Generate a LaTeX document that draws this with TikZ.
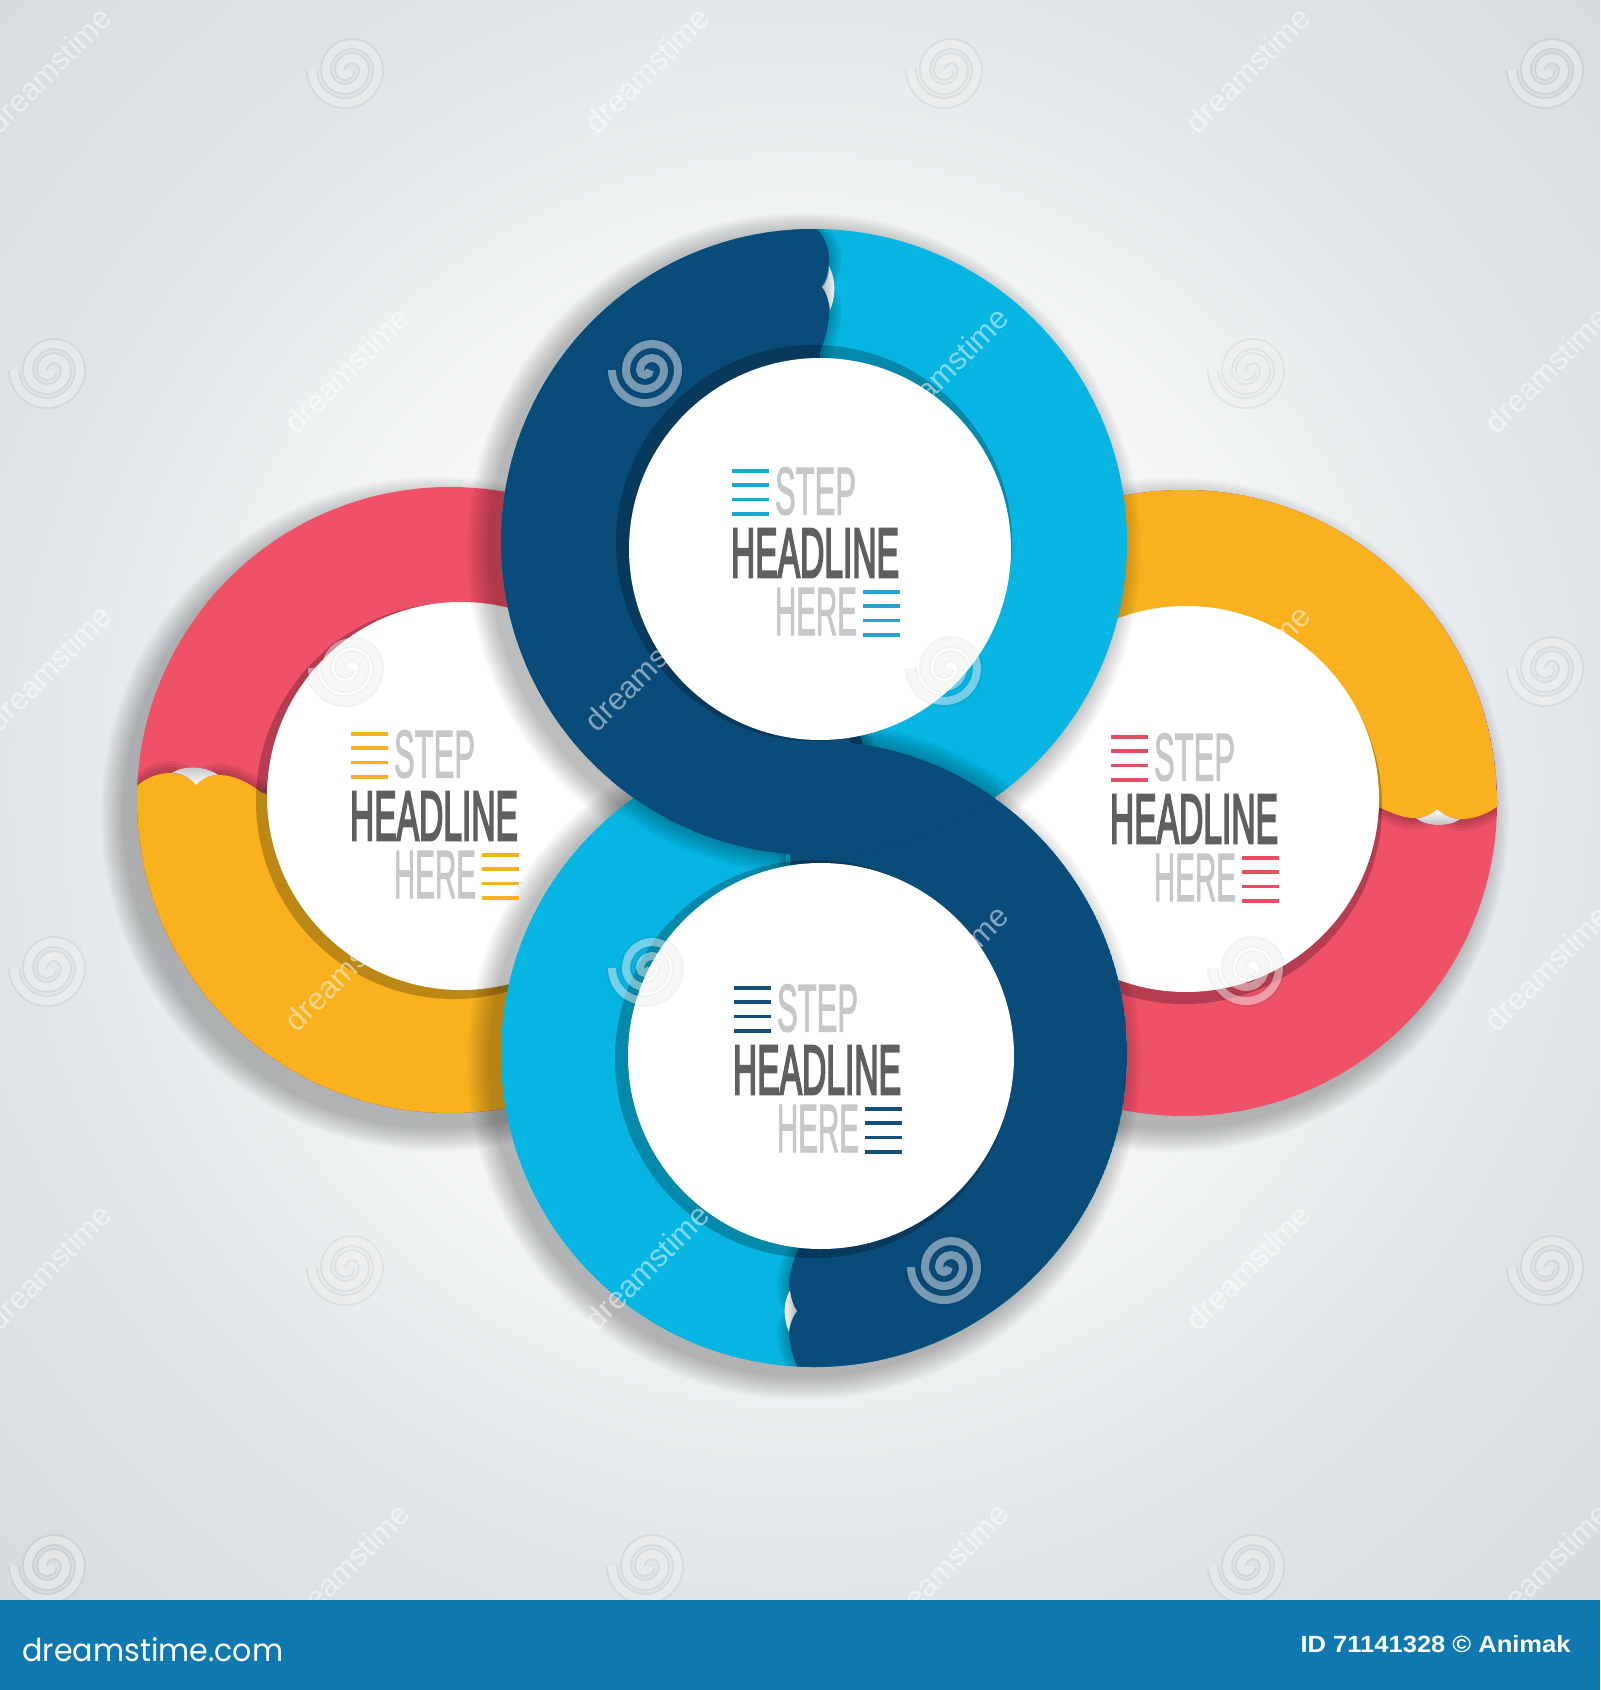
\documentclass[tikz,border=0pt]{standalone}
\usepackage{fontspec}
\usepackage{graphicx}
\setmainfont{Liberation Sans}
\newfontfamily\stepfont[FakeBold=2]{Liberation Sans}
\newfontfamily\headfont[FakeBold=4]{Liberation Sans}
\newfontfamily\logofont{Poppins}
\usetikzlibrary{calc}

\definecolor{navy}{RGB}{9,75,121}
\definecolor{sky}{RGB}{6,181,225}
\definecolor{rose}{RGB}{238,81,104}
\definecolor{amber}{RGB}{249,178,30}
\definecolor{headgray}{RGB}{94,95,97}
\definecolor{softgray}{RGB}{198,199,201}
\definecolor{barblue}{RGB}{16,120,176}
\definecolor{linesky}{RGB}{30,166,214}
\definecolor{linenavy}{RGB}{20,78,122}
\definecolor{lineamber}{RGB}{246,176,36}
\definecolor{linerose}{RGB}{228,77,98}
\definecolor{bgA}{RGB}{252,252,252}
\definecolor{bgB}{RGB}{248,249,249}
\definecolor{bgC}{RGB}{237,240,241}
\definecolor{bgD}{RGB}{225,229,232}
\definecolor{bgE}{RGB}{213,219,223}

\pgfdeclareradialshading{bgshade}{\pgfpoint{0bp}{0bp}}{color(0bp)=(bgA); color(12.5bp)=(bgB); color(18.75bp)=(bgC); color(25bp)=(bgD); color(35.4bp)=(bgE); color(50bp)=(bgE)}

% soft drop shadow of a disk: centre x, centre y, radius
\newcommand\softdisk[3]{\foreach \q in {1,...,10}{\fill[black,fill opacity=0.028] (#1,#2) circle ({#3+2.4*\q});}}

% text block: name, X0 (left of headline), Y0 (top of STEP), line colour
\newcommand\stepblock[4]{%
  \foreach \q in {0,1,2,3}{%
    \fill[#4] ({#2+1},{#3+1+\q*14.4}) rectangle ({#2+38},{#3+4.5+\q*14.4});
    \fill[#4] ({#2+132},{#3+122+\q*14.4}) rectangle ({#2+169},{#3+125.5+\q*14.4});
  }
  \node[txt, anchor=south west] (#1-step) at ({#2+44},{#3+47}) {\resizebox{40.5pt}{23.5pt}{\stepfont STEP}};
  \node[txt, anchor=south west, text=headgray] (#1-head) at ({#2},{#3+109}) {\resizebox{84pt}{24pt}{\headfont HEADLINE}};
  \node[txt, anchor=south west] (#1-here) at ({#2+44},{#3+167}) {\resizebox{41pt}{23.5pt}{\stepfont HERE}};
}

\def\topclip{(816,200) -- (816,228) .. controls (824,236) and (830,248) .. (829,262) .. controls (828,274) and (825,282) .. (822,287) .. controls (827,293) and (830,303) .. (829,316) .. controls (828,330) and (824,342) .. (820,352) -- (814,542) -- (900,900) -- (450,900) -- (450,200) -- cycle}
\def\botclip{(786,700) -- (800,1246) .. controls (794,1258) and (789,1272) .. (789,1287) .. controls (789,1299) and (793,1306) .. (797,1311) .. controls (792,1316) and (788,1324) .. (789,1335) .. controls (790,1350) and (795,1362) .. (800,1372) -- (800,1420) -- (1180,1420) -- (1180,700) -- cycle}
\def\leftclip{(100,790) -- (137,786) .. controls (146,778) and (158,773) .. (170,773) .. controls (182,773) and (191,779) .. (196,785) .. controls (202,779) and (209,775) .. (219,775) .. controls (233,775) and (248,782) .. (262,793) -- (300,800) -- (900,800) -- (900,1200) -- (100,1200) -- cycle}
\def\rightclip{(850,806) -- (1376,806) .. controls (1388,811) and (1401,818) .. (1414,818) .. controls (1424,818) and (1432,814) .. (1437,809) .. controls (1443,815) and (1452,819) .. (1462,819) .. controls (1476,819) and (1488,813) .. (1500,805) -- (1540,805) -- (1540,450) -- (850,450) -- cycle}

\begin{document}
\begin{tikzpicture}[x=0.5pt, y=-0.5pt,
  txt/.style={inner sep=0pt, outer sep=0pt, text=softgray},
  wall/.style={fill=black, fill opacity=0.24},
  wmline/.style={draw=white, draw opacity=0.45, line width=4pt},
  wmshadow/.style={draw=black, draw opacity=0.05, line width=6pt},
  wmtext/.style={text=white, fill opacity=0.5, inner sep=0pt, font=\fontsize{15.5}{16}\selectfont}]
\useasboundingbox (0,0) rectangle (1600,1690);

% background
\begin{scope}
  \clip (0,0) rectangle (1600,1600);
  \shade[shading=bgshade] (0,-40) rectangle (1600,1600);
\end{scope}

% ---------------- left ring ----------------
\softdisk{438}{814}{313}
\fill[rose] (450,800) circle (313);
\begin{scope}
  \clip (450,800) circle (313);
  \foreach \sh in {3,6,9,12}{\fill[black,fill opacity=0.06,shift={(0,-\sh)}] \leftclip;}
  \clip \leftclip;
  \fill[amber] (450,800) circle (313);
\end{scope}
\fill[wall] (454,801) circle (198);
\fill[white] (461,796) circle (194);
\shade[top color=gray!50, bottom color=white] (172,773) .. controls (183,773) and (191,779) .. (196,785) .. controls (202,779) and (209,775) .. (218,775) .. controls (206,766) and (184,765) .. (172,773) -- cycle;

% ---------------- right ring ----------------
\softdisk{1172}{815}{313}
\fill[rose] (1184,803) circle (313);
\begin{scope}
  \clip (1184,803) circle (313);
  \foreach \sh in {3,6,9,12}{\fill[black,fill opacity=0.06,shift={(0,\sh)}] \rightclip;}
  \clip \rightclip;
  \fill[amber] (1184,803) circle (313);
\end{scope}
\fill[wall] (1184,806) circle (198);
\fill[white] (1186,799) circle (193);
\shade[top color=white, bottom color=gray!55] (1416,818) .. controls (1424,818) and (1432,814) .. (1437,809) .. controls (1443,815) and (1452,819) .. (1460,819) .. controls (1450,827) and (1426,827) .. (1416,818) -- cycle;

% ---------------- central figure eight ----------------
\softdisk{804}{550}{313}
\softdisk{804}{1062}{313}
% top ring
\fill[sky] (814,542) circle (313);
\begin{scope}
  \clip (814,542) circle (313);
  \foreach \sh in {3,6,9,12}{\fill[black,fill opacity=0.06,shift={(\sh,0)}] \topclip;}
  \clip \topclip;
  \fill[navy] (814,542) circle (313);
\end{scope}
% bottom ring
\fill[sky] (814,1054) circle (313);
\begin{scope}
  \clip (814,1054) circle (313);
  \foreach \sh in {3,6,9,12}{\fill[black,fill opacity=0.06,shift={(-\sh,0)}] \botclip;}
  \clip \botclip;
  \fill[navy] (814,1054) circle (313);
\end{scope}
% shadows of the crossing band on the light blue parts
\begin{scope}
  \clip (814,542) circle (313);
  \clip (850,200) rectangle (1200,900);
  \foreach \q in {1,...,8}{\fill[black,fill opacity=0.035] (814,1054) circle ({313+2.5*\q});}
\end{scope}
\begin{scope}
  \clip (814,1054) circle (313);
  \clip (400,700) rectangle (786,1400);
  \foreach \q in {1,...,8}{\fill[black,fill opacity=0.035] (814,542) circle ({313+2.5*\q});}
\end{scope}
% crossing (lens) in dark blue
\begin{scope}
  \clip (814,542) circle (313);
  \fill[navy] (814,1054) circle (313);
\end{scope}
% inner walls and white discs
\fill[wall] (814,543) circle (198);
\fill[white] (820,549) circle (191);
\fill[wall] (814,1059) circle (199);
\fill[white] (821,1056) circle (193);
% curls
\shade[left color=gray!60, right color=white] (829,266) .. controls (829,276) and (826,283) .. (822,287) .. controls (826,292) and (829,300) .. (830,310) .. controls (836,296) and (836,280) .. (829,266) -- cycle;
\shade[left color=white, right color=gray!60] (790,1290) .. controls (791,1300) and (794,1307) .. (797,1311) .. controls (793,1316) and (790,1323) .. (789,1332) .. controls (783,1318) and (783,1302) .. (790,1290) -- cycle;

% ---------------- texts ----------------
\stepblock{top}{731}{468}{linesky}
\stepblock{bottom}{733}{985}{linenavy}
\stepblock{left}{350}{731}{lineamber}
\stepblock{right}{1110}{734}{linerose}

% ---------------- watermarks ----------------
\foreach \ix/\x in {0/49,1/347,2/647,3/946,4/1248,5/1547}{
  \foreach \iy/\y in {0/70,1/370,2/668,3/968,4/1267,5/1566}{
    \pgfmathtruncatemacro\wmodd{mod(\ix+\iy,2)}
    \ifnum\wmodd=1
      \draw[wmshadow] ({\x+3},\y) arc[start angle=0,end angle=180,radius=5] arc[start angle=180,end angle=360,radius=12] arc[start angle=0,end angle=180,radius=19] arc[start angle=180,end angle=360,radius=26] arc[start angle=0,end angle=180,radius=33];
      \draw[wmline] ({\x+3},\y) arc[start angle=0,end angle=180,radius=5] arc[start angle=180,end angle=360,radius=12] arc[start angle=0,end angle=180,radius=19] arc[start angle=180,end angle=360,radius=26] arc[start angle=0,end angle=180,radius=33];
    \else
      \node[wmtext, rotate=45] (wm-\ix-\iy) at (\x,\y) {dreamstime};
    \fi
  }
}

% ---------------- bottom bar ----------------
\fill[barblue] (0,1600) rectangle (1600,1690);
\node[anchor=south west, inner sep=0pt, text=white] (logo) at (22,1662) {\resizebox{130.5pt}{12pt}{\logofont dreamstime.com}};
\node[anchor=south east, inner sep=0pt, text=white] (idtext) at (1571,1653) {\resizebox{135pt}{8.5pt}{\bfseries ID 71141328 © Animak}};
\end{tikzpicture}
\end{document}
